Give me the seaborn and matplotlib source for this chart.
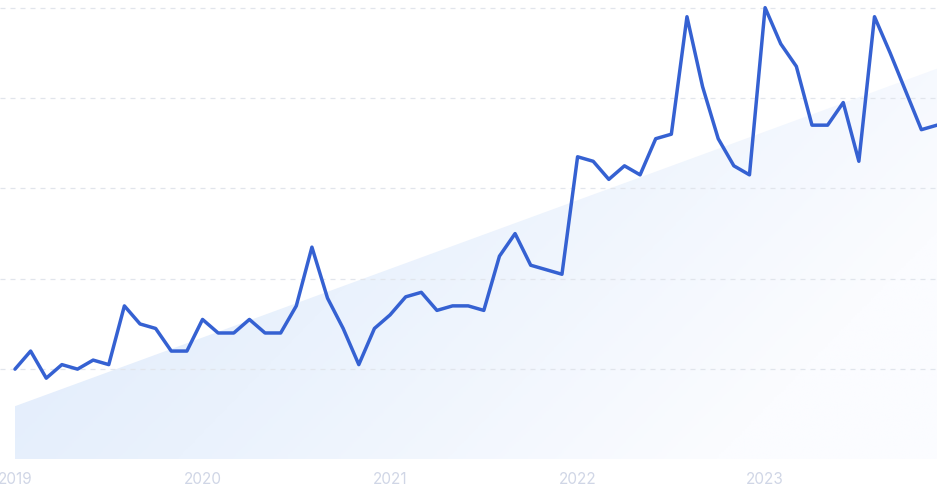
import numpy as np
import pandas as pd
import matplotlib
matplotlib.use("Agg")
import matplotlib.pyplot as plt
import seaborn as sns
from matplotlib.colors import LinearSegmentedColormap

# ---- data ----
months = list(range(60))  # Jan 2019 .. Dec 2023
values = [20, 24, 18, 21, 20, 22, 21, 34, 30, 29, 24, 24,
          31, 28, 28, 31, 28, 28, 34, 47, 35.7, 29, 21, 29,
          32, 36, 37, 33, 34, 34, 33, 45, 50, 43, 42, 41,
          67, 66, 62, 65, 63, 71, 72, 98, 82.5, 71, 65, 63,
          100, 92, 87, 74, 74, 79, 66, 98, 90, 81.5, 73, 74]
tick_positions = [0, 12, 24, 36, 48]
tick_labels = ["2019", "2020", "2021", "2022", "2023"]
trend_start = 11.8
trend_end = 86.5
grid_values = [20, 40, 60, 80, 100]

df = pd.DataFrame({"month": months, "value": values})

sns.set_theme(style="white")
plt.rcParams["font.family"] = ["Inter", "DejaVu Sans"]

W, H = 943, 487
fig = plt.figure(figsize=(W / 100, H / 100), dpi=100)
ax = fig.add_axes([0, (H - 459.5) / H, 937 / W, 459.5 / H])

xmin, xmax = -0.96, 59
ymin, ymax = 0, 101.7
ax.set_xlim(xmin, xmax)
ax.set_ylim(ymin, ymax)

# trend area with gradient
trend_x = [months[0], months[-1]]
trend_y = [trend_start, trend_end]
poly = ax.fill_between(trend_x, [0, 0], trend_y, facecolor="none", edgecolor="none", zorder=1)
nx, ny = 400, 200
gx = np.linspace(0, 1, nx)
gy = np.linspace(0, 1, ny)
GX, GY = np.meshgrid(gx, gy)
t = np.clip(0.85 * GX + 0.35 * (1 - GY), 0, 1)
cmap = LinearSegmentedColormap.from_list("g", ["#dde9fb", "#eaf2fd", "#fbfcff"])
img = ax.imshow(t, extent=[months[0], months[-1], 0, trend_end], origin="lower",
                cmap=cmap, vmin=0, vmax=1, aspect="auto", zorder=1, interpolation="bilinear")
img.set_clip_path(poly.get_paths()[0], transform=ax.transData)
ax.set_xlim(xmin, xmax)
ax.set_ylim(ymin, ymax)

# grid
for g in grid_values:
    ax.axhline(g, color="#e1e5ec", linewidth=0.9, linestyle=(0, (4, 4)), zorder=2)

sns.lineplot(data=df, x="month", y="value", ax=ax, color="#3561d2", linewidth=2.5, zorder=3)

ax.set_xticks(tick_positions)
ax.set_xticklabels(tick_labels, color="#d0d6e6", fontsize=11)
ax.set_yticks([])
ax.tick_params(axis="x", length=0, pad=9)
ax.set_xlabel("")
ax.set_ylabel("")
for s in ax.spines.values():
    s.set_visible(False)
ax.patch.set_alpha(0)

fig.savefig("out.png", dpi=100)
